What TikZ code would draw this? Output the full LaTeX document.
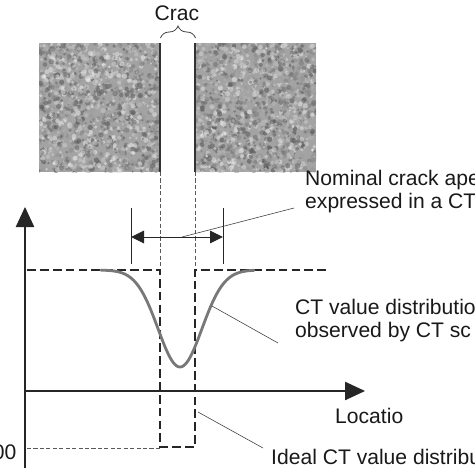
\documentclass[tikz,border=0pt]{standalone}
\usepackage{fontspec}
\setmainfont{Liberation Sans}
\usetikzlibrary{arrows.meta,decorations.pathreplacing}
\definecolor{ctgray}{gray}{0.47}

\begin{document}
\begin{tikzpicture}[
  x=0.03cm, y=-0.03cm,
  font=\fontsize{18}{18.8}\selectfont,
  lbl/.style={inner sep=0pt, align=left, text=black!90},
  axis/.style={draw=black!85, line width=1.1pt, -{Triangle[length=0.6cm, width=0.55cm]}},
  ideal/.style={draw=black!85, line width=1.7pt, dash pattern=on 7.5pt off 3.5pt},
  guide/.style={draw=black!65, line width=0.5pt, dash pattern=on 3.5pt off 2pt},
  edge/.style={draw=black!80, line width=0.9pt},
  leader/.style={draw=black!75, line width=0.5pt},
  dim/.style={draw=black!85, line width=0.8pt},
  ctcurve/.style={draw=ctgray, line width=2.4pt, line cap=round}
]
\useasboundingbox (0,0) rectangle (474,474);

\pgfmathsetseed{11}
\foreach \xa in {39,195} {
  \begin{scope}
    \clip (\xa,43) rectangle ++(121,129);
    \fill[black!36] (\xa,43) rectangle ++(121,129);
    \foreach \k in {1,...,1600} {
      \pgfmathsetmacro\gx{\xa+121*rnd}
      \pgfmathsetmacro\gy{43+129*rnd}
      \pgfmathsetmacro\gs{5+65*rnd}
      \pgfmathsetmacro\gr{1+1.8*rnd}
      \fill[black!\gs, opacity=0.55] (\gx,\gy) circle[radius=\gr];
    }
  \end{scope}
}
\draw[edge] (160,43) -- (160,172);
\draw[edge] (195,43) -- (195,172);

\node[lbl, anchor=base] (crack) at (177,20) {Crac};
\draw[leader, line width=0.7pt, decorate, decoration={brace, amplitude=0.36cm}] (160.5,38) -- (195.5,38);

\draw[guide] (160,172) -- (160,270);
\draw[guide] (195,172) -- (195,270);
\draw[guide] (27,448) -- (160,448);

\draw[axis] (25,468) -- (25,207);
\draw[axis] (25,391) -- (365,391);

\draw[ideal] (27,270) -- (160,270) -- (160,447) -- (195,447) -- (195,270) -- (330,270);

\draw[ctcurve] plot[domain=101:254, samples=90, smooth] (\x,{270+97*exp(-(((\x-180)/31)^2))});

\coordinate (dl) at (131,237);
\coordinate (dr) at (223,237);
\draw[dim] (131,208) -- (131,264);
\draw[dim] (223,208) -- (223,264);
\draw[dim, {Triangle[length=0.39cm, width=0.38cm]}-{Triangle[length=0.39cm, width=0.38cm]}] (dl) -- (dr);

\node[lbl, anchor=base west] (nominal) at (305,208) {Nominal crack ape\\expressed in a CT};
\node[lbl, anchor=base west] (observed) at (295,337) {CT value distributio\\observed by CT sc};
\node[lbl, anchor=base west] (location) at (335,423) {Locatio};
\node[lbl, anchor=base west] (ideallbl) at (271,464) {Ideal CT value distribu};
\node[lbl, anchor=base east] (lowval) at (16.5,459) {00};

\coordinate (dimmid) at (182,237);
\coordinate (nomend) at (294,208);
\coordinate (curvept) at (212,306);
\coordinate (obsend) at (278,343);
\coordinate (idealpt) at (198,412);
\coordinate (idealend) at (263,448);
\draw[leader] (dimmid) -- (nomend);
\draw[leader] (curvept) -- (obsend);
\draw[leader] (idealpt) -- (idealend);
\end{tikzpicture}
\end{document}
